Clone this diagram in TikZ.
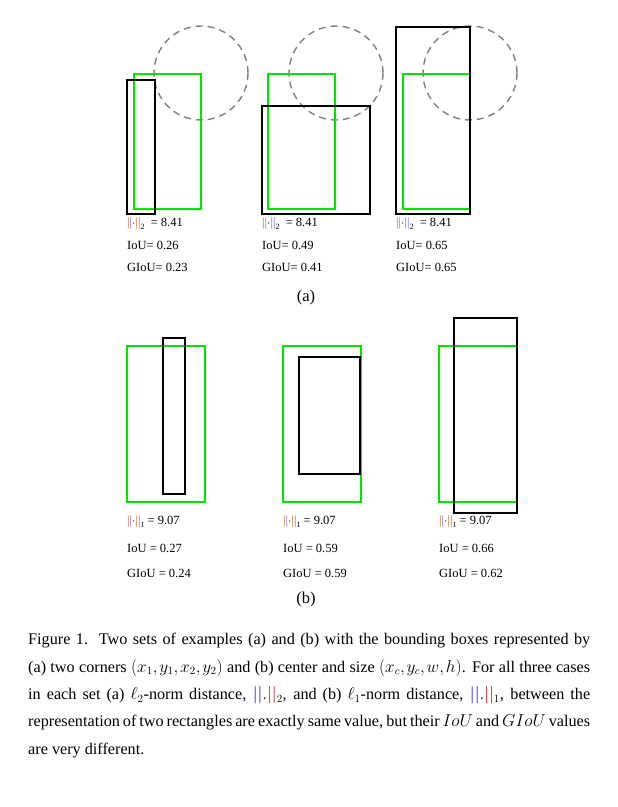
\documentclass[tikz,border=0pt]{standalone}
\usepackage{fontspec}
\setmainfont{Liberation Serif}
\begin{document}
\begin{tikzpicture}[x=1pt,y=-1pt,
  gt/.style={draw=green!90!black,line width=1.6pt},
  pr/.style={draw=black,line width=1.6pt},
  cir/.style={draw=gray,line width=1.4pt,dash pattern=on 7pt off 5pt},
  lab/.style={anchor=west,font=\fontsize{12.5}{14}\selectfont,inner sep=0pt},
  sub/.style={font=\fontsize{16.5}{18}\selectfont}]
\useasboundingbox (0,0) rectangle (618,807);
\newcommand{\nrm}[1]{{\color{orange!80!black}|}{\color{blue!60}|}$\cdot${\color{orange!80!black}|}{\color{blue!60}|}\raisebox{-3pt}{\footnotesize #1}}
\newcommand{\cm}[1]{{\thinmuskip=2mu$#1$}}
% (a)
\foreach \g/\b/\bt/\br/\c [count=\i] in {134/127/80/155/201, 268/262/106/370/336, 403/396/27/470/470}{
  \draw[cir] (\c,73) circle (47);
  \draw[gt] (\g,74) rectangle (\g+67,209);
  \draw[pr] (\b,\bt) rectangle (\br,214);
}
\node[lab] (a1) at (127,224) {\nrm{2} \ = 8.41};
\node[lab] (a2) at (262,224) {\nrm{2} \ = 8.41};
\node[lab] (a3) at (396,224) {\nrm{2} \ = 8.41};
\node[lab] at (127,245) {IoU= 0.26};
\node[lab] at (262,245) {IoU= 0.49};
\node[lab] at (396,245) {IoU= 0.65};
\node[lab] at (127,267) {GIoU= 0.23};
\node[lab] at (262,267) {GIoU= 0.41};
\node[lab] at (396,267) {GIoU= 0.65};
\node[sub] (sa) at (306,298) {(a)};
% (b)
\draw[gt] (127,346) rectangle (205,502);
\draw[pr] (163,338) rectangle (185,494);
\draw[gt] (283,346) rectangle (361,502);
\draw[pr] (299,357) rectangle (360,474);
\draw[gt] (439,346) rectangle (517,502);
\draw[pr] (454,318) rectangle (517,513);
\node[lab] at (127,522) {\nrm{1} = 9.07};
\node[lab] at (283,522) {\nrm{1} = 9.07};
\node[lab] at (439,522) {\nrm{1} = 9.07};
\node[lab] at (127,548) {IoU = 0.27};
\node[lab] at (283,548) {IoU = 0.59};
\node[lab] at (439,548) {IoU = 0.66};
\node[lab] at (127,573) {GIoU = 0.24};
\node[lab] at (283,573) {GIoU = 0.59};
\node[lab] at (439,573) {GIoU = 0.62};
\node[sub] (sb) at (306,600) {(b)};
% caption
\node[anchor=north west,inner sep=0pt,text width=562pt,align=justify,
  font=\fontsize{16.2}{27.4}\selectfont] (cap) at (28,633) {Figure 1.\ \ Two sets of examples (a) and (b) with the bounding boxes represented by (a) two corners \cm{(x_1,y_1,x_2,y_2)} and (b) cen\-ter and size \cm{(x_c,y_c,w,h)}. For all three cases in each set (a) $\ell_2$-norm distance, {\color{blue!70!black}$||$}$.${\color{red!70!black}$||$}$_2$, and (b) $\ell_1$-norm distance, {\color{blue!70!black}$||$}$.${\color{red!70!black}$||$}$_1$, between the representation of two rectangles are exactly same value, but their $IoU$ and $GIoU$ values are very different.\par};
\end{tikzpicture}
\end{document}
